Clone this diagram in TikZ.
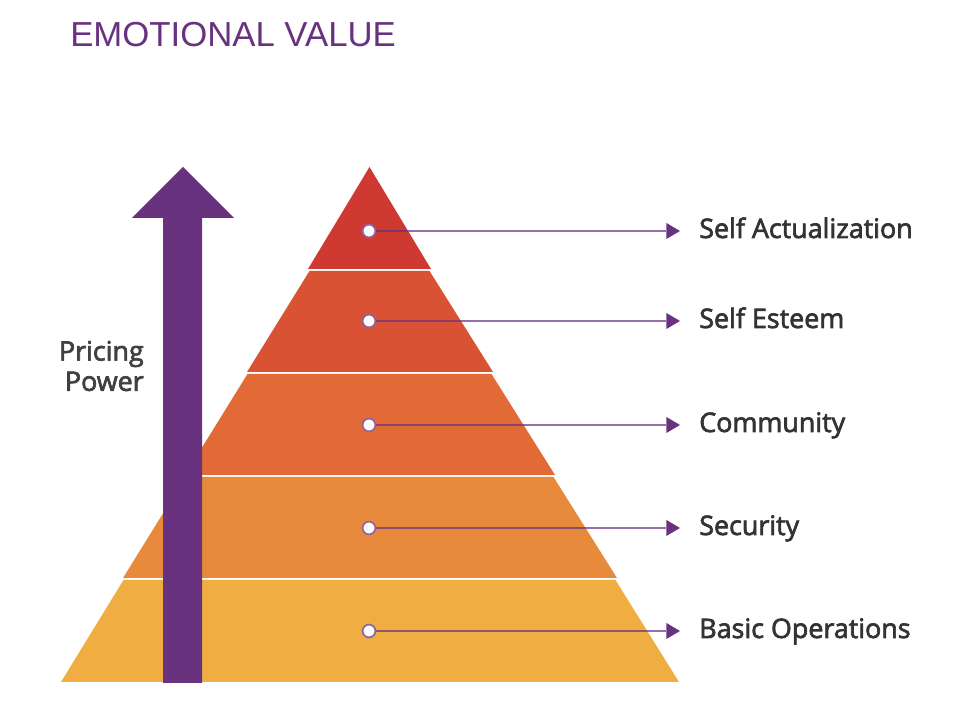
\documentclass[tikz,border=0pt]{standalone}
\usepackage{fontspec}
\setmainfont{Open Sans}
\newfontfamily\titlefont{Liberation Sans}
\newfontfamily\labelfont[FakeBold=2.5]{Open Sans}
\usetikzlibrary{arrows.meta,positioning}

\definecolor{vpurple}{HTML}{68327F}
\definecolor{bandA}{HTML}{CE3A31}
\definecolor{bandB}{HTML}{D85233}
\definecolor{bandC}{HTML}{E26A37}
\definecolor{bandD}{HTML}{E88A3C}
\definecolor{bandE}{HTML}{F0AD42}

\tikzset{
  level dot/.style={circle,draw=vpurple!75,fill=white,line width=1.2pt,inner sep=0pt,minimum size=.32cm},
  level text/.style={anchor=base west,inner sep=0pt,font=\labelfont\fontsize{19.1}{22}\selectfont,text=black!80},
  level line/.style={draw=vpurple,draw opacity=.7,line width=1.75pt,-{Triangle[length=.34cm,width=.4cm,line width=0pt,fill=vpurple]}}
}

\begin{document}
\begin{tikzpicture}[x=.025cm,y=-.025cm]
\useasboundingbox (0,0) rectangle (976,720);

% TITLE
\node[anchor=west,inner sep=0pt,text=vpurple,font=\titlefont\fontsize{24.7}{30}\selectfont] (title) at (70,35) {EMOTIONAL VALUE};

% PYRAMID BANDS
\fill[bandE] (123.5,580) -- (615.5,580) -- (679,682) -- (61,682) -- cycle;
\fill[bandD] (185.5,477) -- (553.5,477) -- (617,578) -- (123,578) -- cycle;
\fill[bandC] (247.5,374) -- (491.5,374) -- (555,475) -- (185,475) -- cycle;
\fill[bandB] (309.5,271) -- (429.5,271) -- (493,372) -- (247,372) -- cycle;
\fill[bandA] (369.5,167) -- (431,269) -- (308,269) -- cycle;

% PRICING POWER ARROW
\fill[vpurple] (163,683) -- (163,218) -- (132,218) -- (183,167) -- (234,218) -- (202,218) -- (202,683) -- cycle;
\node[font=\labelfont\fontsize{19.1}{21.5}\selectfont,text=black!75,align=right,inner sep=0pt,anchor=east] (power) at (144,366) {Pricing\\Power};

% SELF ACTUALIZATION
\node[level dot] (dotA) at (369,231) {};
\node[level text] (textA) at (699,238) {Self Actualization};
\coordinate (endA) at (680,231);
\draw[level line] (dotA) -- (endA);

% SELF ESTEEM
\node[level dot] (dotB) at (369,321) {};
\node[level text] (textB) at (699,328) {Self Esteem};
\coordinate (endB) at (680,321);
\draw[level line] (dotB) -- (endB);

% COMMUNITY
\node[level dot] (dotC) at (369,425) {};
\node[level text] (textC) at (699,432) {Community};
\coordinate (endC) at (680,425);
\draw[level line] (dotC) -- (endC);

% SECURITY
\node[level dot] (dotD) at (369,528) {};
\node[level text] (textD) at (699,535) {Security};
\coordinate (endD) at (680,528);
\draw[level line] (dotD) -- (endD);

% BASIC OPERATIONS
\node[level dot] (dotE) at (369,631) {};
\node[level text] (textE) at (699,638) {Basic Operations};
\coordinate (endE) at (680,631);
\draw[level line] (dotE) -- (endE);
\end{tikzpicture}
\end{document}
